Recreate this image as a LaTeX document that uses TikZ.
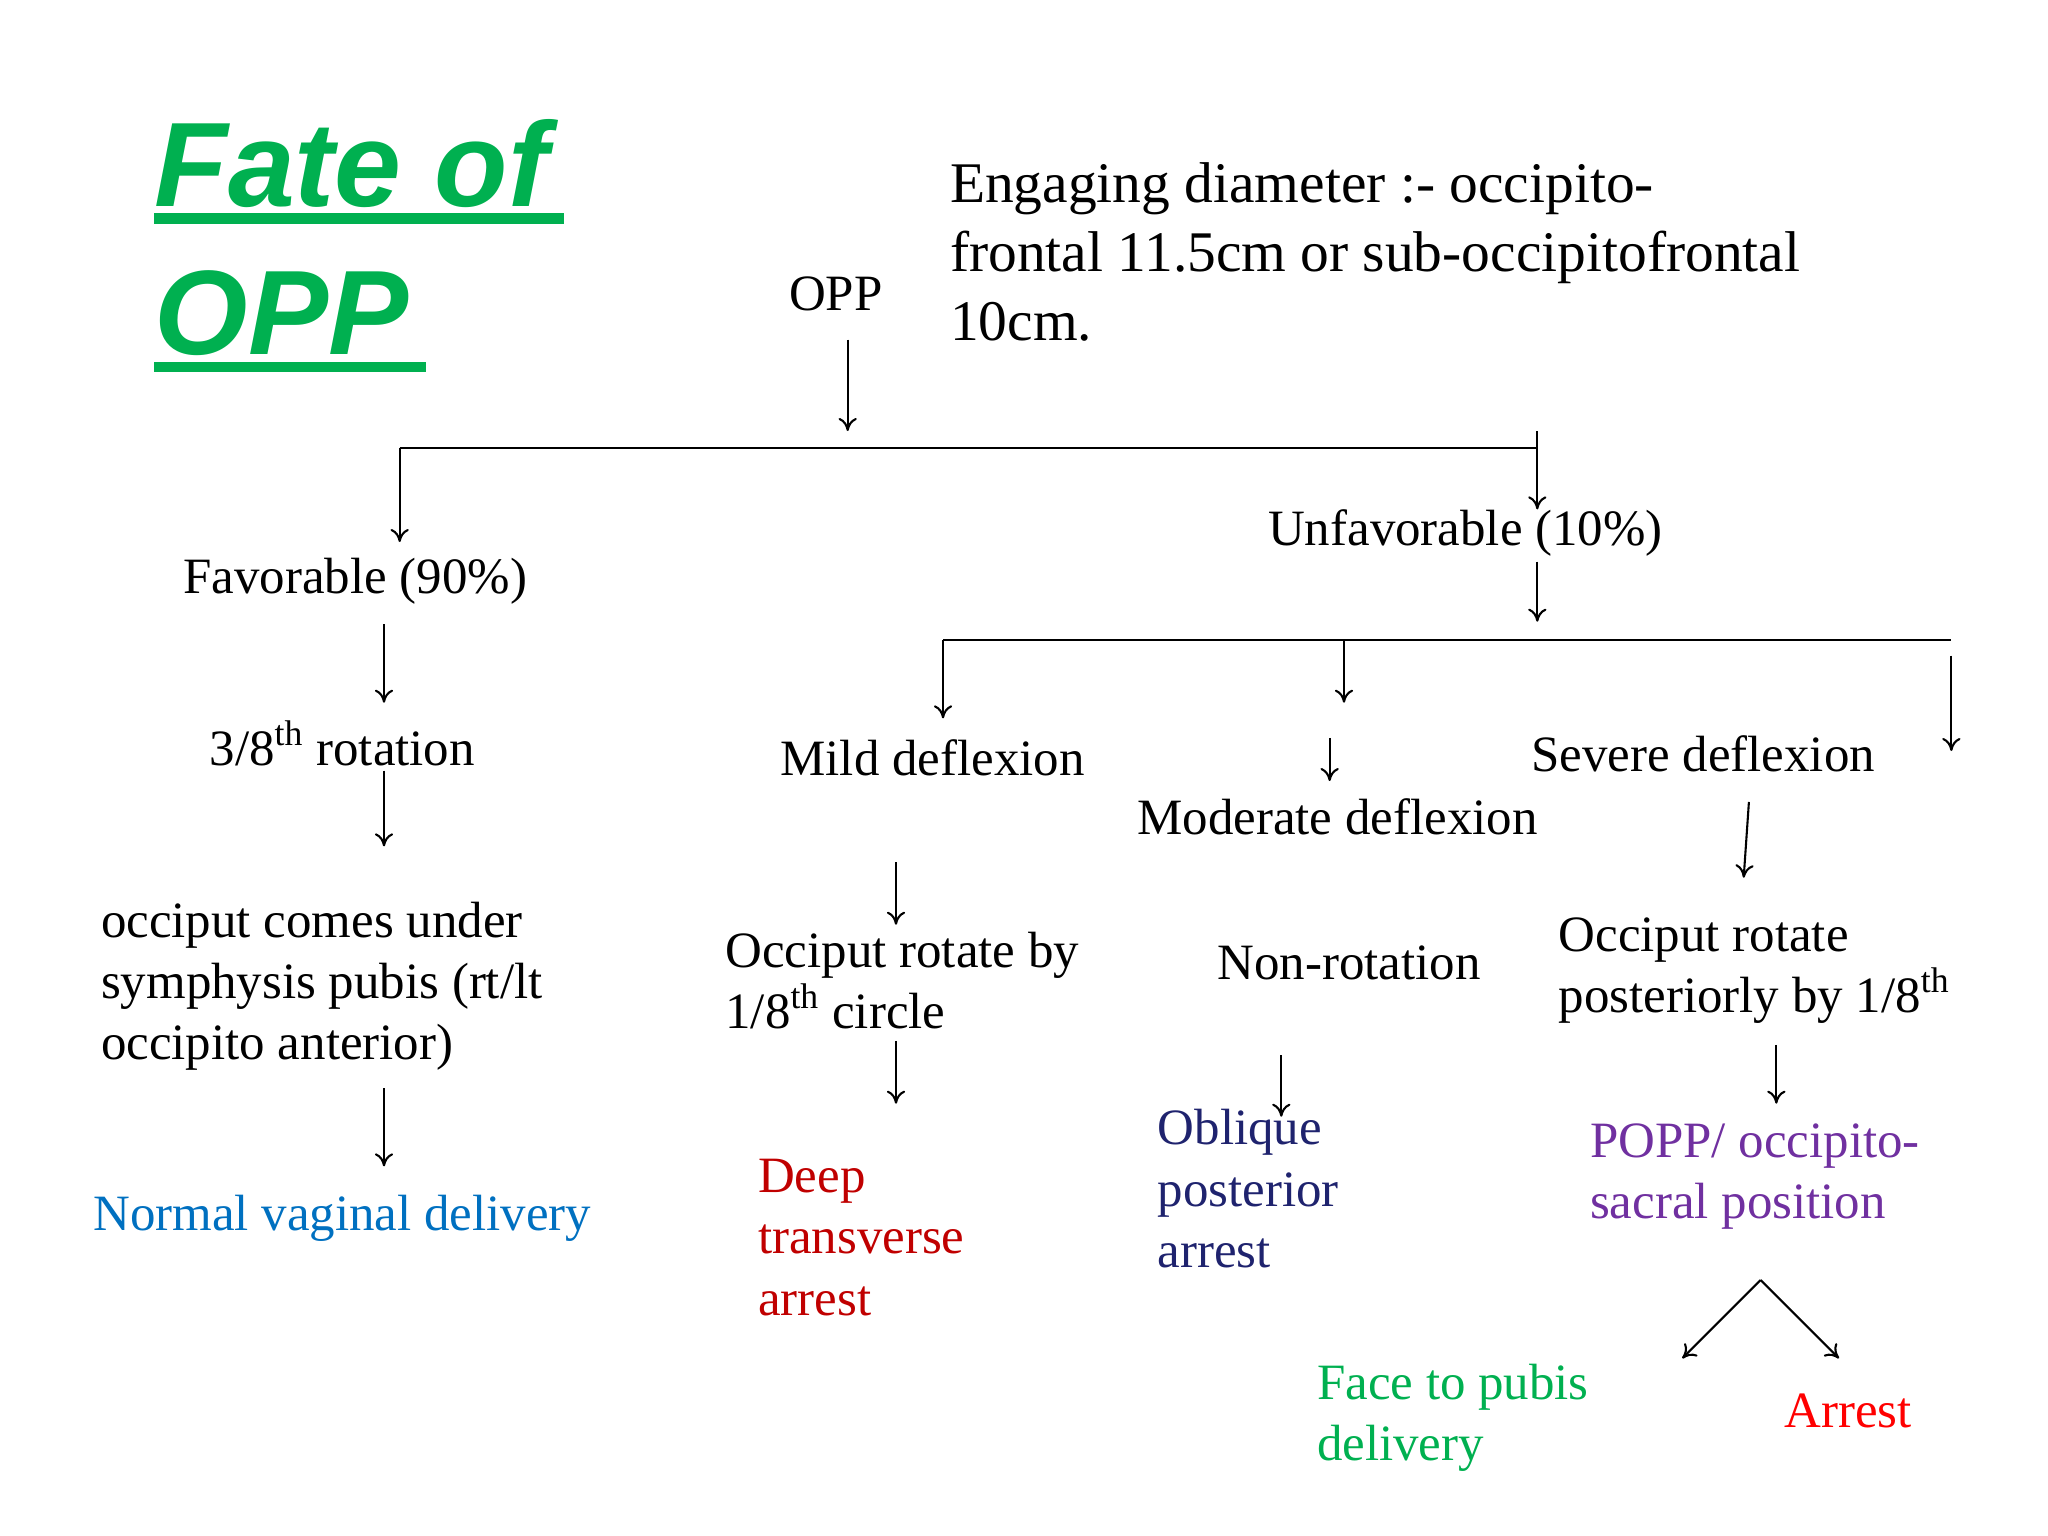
\documentclass[tikz,border=0pt]{standalone}
\usepackage{fontspec}
\usetikzlibrary{arrows.meta}
\setmainfont{Liberation Serif}
\newfontfamily\titlefont{Liberation Sans}
\begin{document}
\begin{tikzpicture}[x=0.5pt,y=-0.5pt,
  txt/.style={inner sep=0pt,font=\fontsize{19.5}{23.5}\selectfont,align=left},
  arr/.style={-{To[length=5pt,width=7pt]},line width=0.8pt},
  ln/.style={line width=0.8pt},
  ttl/.style={inner sep=0pt,anchor=west,font=\titlefont\bfseries\itshape\fontsize{46}{46}\selectfont}]
\useasboundingbox (0,0) rectangle (1568,1176);
\definecolor{tgreen}{RGB}{0,176,80}
\definecolor{tblue}{RGB}{0,112,192}
\definecolor{tnavy}{RGB}{31,35,110}
\definecolor{tpurple}{RGB}{112,48,160}
\definecolor{tdred}{RGB}{192,0,0}
\node[ttl,text=tgreen] (t1) at (118,125) {Fate of};
\node[ttl,text=tgreen] (t2) at (118,240) {OPP};
\draw[line width=4pt,tgreen] (t1.south west)++(0,8) -- ++(314,0);
\draw[line width=4pt,tgreen] (t2.south west)++(0,8) -- ++(208,0);
\node[txt] (opp) at (640,225) {OPP};
\node[txt,anchor=north west,font=\fontsize{22}{26.5}\selectfont] (eng) at (727,124) {Engaging diameter :- occipito-\\frontal 11.5cm or sub-occipitofrontal\\10cm.};
\coordinate (a1) at (649,260); \coordinate (a2) at (649,330);
\draw[arr] (a1) -- (a2);
\coordinate (hl) at (306,343); \coordinate (hr) at (1177,343);
\draw[ln] (hl) -- (hr);
\coordinate (fav0) at (306,415); \draw[arr] (hl) -- (fav0);
\coordinate (u0) at (1177,330); \coordinate (u1) at (1177,390); \draw[arr] (u0) -- (u1);
\node[txt] (fav) at (272,445) {Favorable (90\%)};
\coordinate (b1) at (294,478); \coordinate (b2) at (294,538); \draw[arr] (b1) -- (b2);
\node[txt] (rot) at (262,569) {3/8\textsuperscript{th} rotation};
\coordinate (c1) at (294,590); \coordinate (c2) at (294,648); \draw[arr] (c1) -- (c2);
\node[txt,anchor=north west] (occ) at (77,690) {occiput comes under\\symphysis pubis (rt/lt\\occipito anterior)};
\coordinate (d1) at (294,833); \coordinate (d2) at (294,893); \draw[arr] (d1) -- (d2);
\node[txt,text=tblue] (nvd) at (262,933) {Normal vaginal delivery};
\node[txt] (unf) at (1122,408) {Unfavorable (10\%)};
\coordinate (e1) at (1177,430); \coordinate (e2) at (1177,476); \draw[arr] (e1) -- (e2);
\coordinate (gl) at (722,490); \coordinate (gr) at (1494,490); \draw[ln] (gl) -- (gr);
\coordinate (m1) at (722,550); \draw[arr] (gl) -- (m1);
\coordinate (g2) at (1029,490); \coordinate (m2) at (1029,538); \draw[arr] (g2) -- (m2);
\coordinate (s0) at (1494,502); \coordinate (s1) at (1494,575); \draw[arr] (s0) -- (s1);
\coordinate (k0) at (1018,565); \coordinate (k1) at (1018,598); \draw[arr] (k0) -- (k1);
\node[txt] (mild) at (714,580) {Mild deflexion};
\node[txt] (mod) at (1024,625) {Moderate deflexion};
\node[txt] (sev) at (1304,577) {Severe deflexion};
\coordinate (f0) at (1339,614); \coordinate (f1) at (1335,672); \draw[arr] (f0) -- (f1);
\coordinate (h0) at (686,660); \coordinate (h1) at (686,708); \draw[arr] (h0) -- (h1);
\node[txt,anchor=north west] (orb) at (555,713) {Occiput rotate by\\1/8\textsuperscript{th} circle};
\coordinate (i0) at (686,797); \coordinate (i1) at (686,845); \draw[arr] (i0) -- (i1);
\node[txt,anchor=north west,text=tdred] (dta) at (580,887) {Deep\\transverse\\arrest};
\node[txt] (nr) at (1033,737) {Non-rotation};
\coordinate (j0) at (981,808); \coordinate (j1) at (981,855); \draw[arr] (j0) -- (j1);
\node[txt,anchor=north west,text=tnavy] (opa) at (886,849) {Oblique\\posterior\\arrest};
\node[txt,anchor=north west] (orp) at (1193,702) {Occiput rotate\\posteriorly by 1/8\textsuperscript{th}};
\coordinate (l0) at (1360,800); \coordinate (l1) at (1360,845); \draw[arr] (l0) -- (l1);
\node[txt,anchor=north west,text=tpurple] (popp) at (1217,860) {POPP/ occipito-\\sacral position};
\coordinate (ap) at (1348,980); \coordinate (al) at (1288,1040); \coordinate (ar) at (1408,1040);
\draw[arr] (ap) -- (al); \draw[arr] (ap) -- (ar);
\node[txt,anchor=north west,text=tgreen] (ftp) at (1008,1044) {Face to pubis\\delivery};
\node[txt,text=red] (arr) at (1415,1080) {Arrest};
\end{tikzpicture}
\end{document}
